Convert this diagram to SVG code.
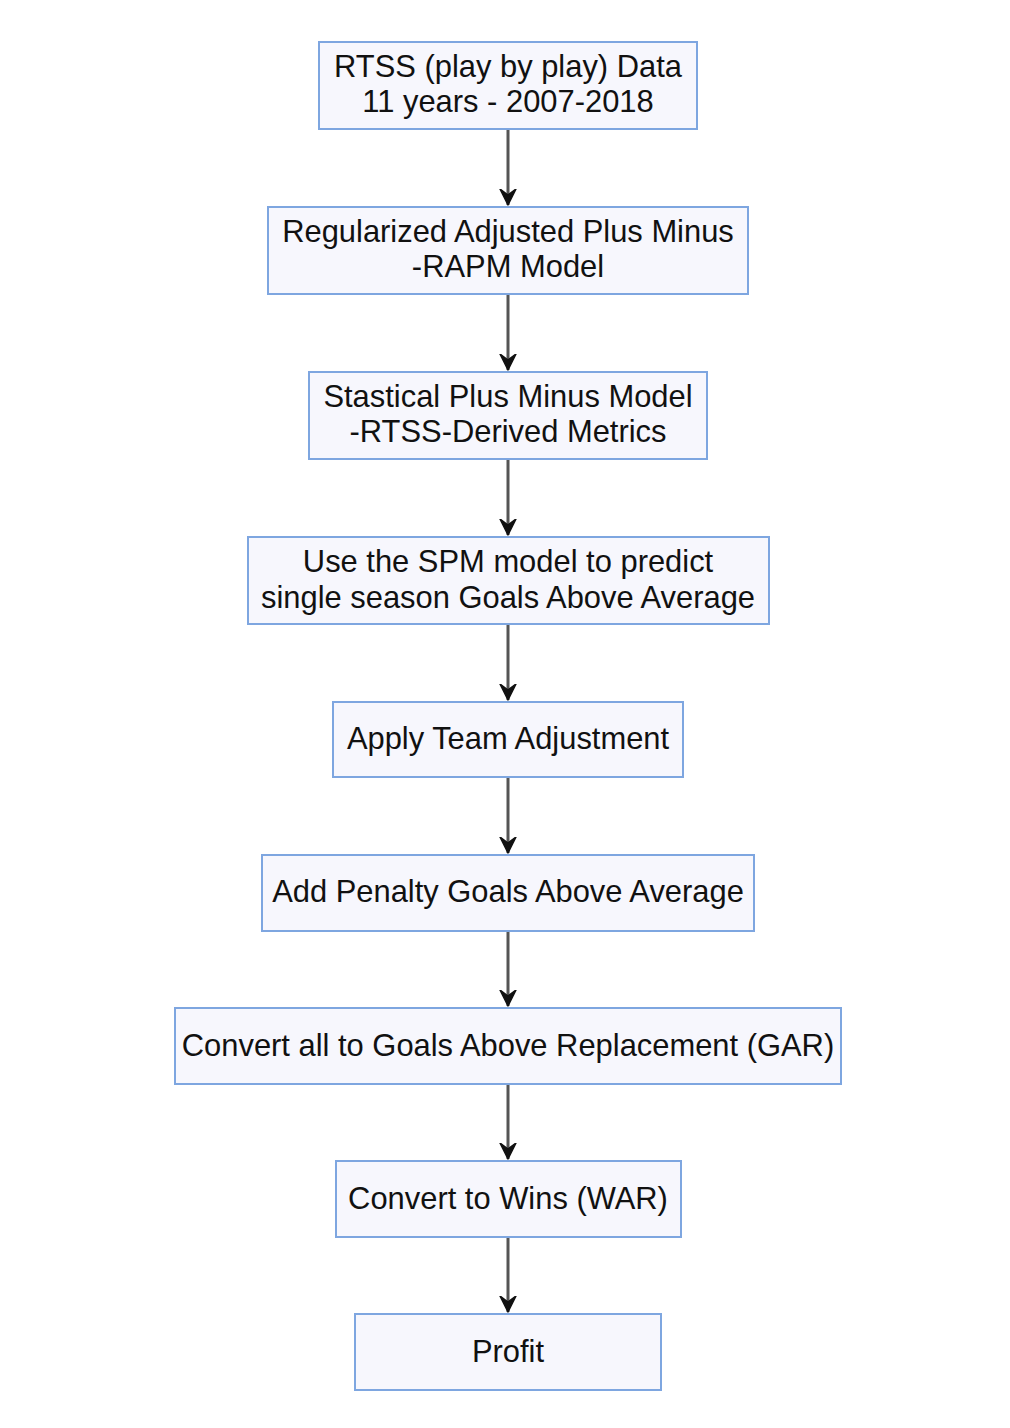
<svg xmlns="http://www.w3.org/2000/svg" width="1010" height="1428" viewBox="0 0 1010 1428">
<style>
.box{fill:#f7f7fd;stroke:#7ea6e0;stroke-width:2}
.t{font-family:"Liberation Sans",Arial,sans-serif;font-size:30.9px;fill:#111;text-anchor:middle;dominant-baseline:central}
.c{stroke:#555;stroke-width:3;fill:none}
</style>
<defs>
<marker id="ah" markerUnits="userSpaceOnUse" markerWidth="20" markerHeight="20" refX="16" refY="9" orient="auto" viewBox="0 0 20 18">
<path d="M0,1 L16,9 L0,17 L6,9 Z" fill="#111" stroke="#111" stroke-width="1.5" stroke-linejoin="round"/>
</marker>
</defs>
<rect width="1010" height="1428" fill="#fff"/>
<g id="connectors">
<line class="c" x1="508" y1="130" x2="508" y2="205" marker-end="url(#ah)"/>
<line class="c" x1="508" y1="295" x2="508" y2="370" marker-end="url(#ah)"/>
<line class="c" x1="508" y1="460" x2="508" y2="535" marker-end="url(#ah)"/>
<line class="c" x1="508" y1="625" x2="508" y2="700" marker-end="url(#ah)"/>
<line class="c" x1="508" y1="778" x2="508" y2="853" marker-end="url(#ah)"/>
<line class="c" x1="508" y1="932" x2="508" y2="1006" marker-end="url(#ah)"/>
<line class="c" x1="508" y1="1085" x2="508" y2="1159" marker-end="url(#ah)"/>
<line class="c" x1="508" y1="1238" x2="508" y2="1312" marker-end="url(#ah)"/>
</g>
<g id="n1"><rect class="box" x="319" y="42" width="378" height="87"/><text class="t" x="508" y="66">RTSS (play by play) Data</text><text class="t" x="508" y="101">11 years - 2007-2018</text></g>
<g id="n2"><rect class="box" x="268" y="207" width="480" height="87"/><text class="t" x="508" y="231">Regularized Adjusted Plus Minus</text><text class="t" x="508" y="266">-RAPM Model</text></g>
<g id="n3"><rect class="box" x="309" y="372" width="398" height="87"/><text class="t" x="508" y="396">Stastical Plus Minus Model</text><text class="t" x="508" y="431">-RTSS-Derived Metrics</text></g>
<g id="n4"><rect class="box" x="248" y="537" width="521" height="87"/><text class="t" x="508" y="561">Use the SPM model to predict</text><text class="t" x="508" y="597">single season Goals Above Average</text></g>
<g id="n5"><rect class="box" x="333" y="702" width="350" height="75"/><text class="t" x="508" y="738">Apply Team Adjustment</text></g>
<g id="n6"><rect class="box" x="262" y="855" width="492" height="76"/><text class="t" x="508" y="891">Add Penalty Goals Above Average</text></g>
<g id="n7"><rect class="box" x="175" y="1008" width="666" height="76"/><text class="t" x="508" y="1045">Convert all to Goals Above Replacement (GAR)</text></g>
<g id="n8"><rect class="box" x="336" y="1161" width="345" height="76"/><text class="t" x="508" y="1198">Convert to Wins (WAR)</text></g>
<g id="n9"><rect class="box" x="355" y="1314" width="306" height="76"/><text class="t" x="508" y="1351">Profit</text></g>
</svg>
